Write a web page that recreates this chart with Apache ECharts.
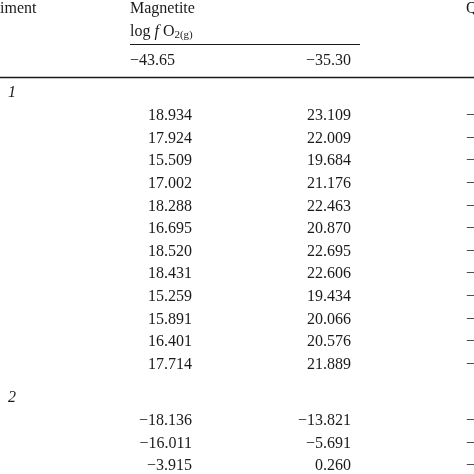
<!DOCTYPE html>
<html>
<head>
<meta charset="utf-8">
<script src="https://cdn.jsdelivr.net/npm/echarts@6/dist/echarts.min.js"></script>
<style>html,body{margin:0;padding:0;background:#fff}#main{width:474px;height:474px}</style>
</head>
<body>
<div id="main"></div>
<script>
var myChart = echarts.init(document.getElementById('main'));

// header values
var headerValues = ['\u221243.65', '\u221235.30'];
// experiment 1 rows
var exp1Col1 = ['18.934', '17.924', '15.509', '17.002', '18.288', '16.695', '18.520', '18.431', '15.259', '15.891', '16.401', '17.714'];
var exp1Col2 = ['23.109', '22.009', '19.684', '21.176', '22.463', '20.870', '22.695', '22.606', '19.434', '20.066', '20.576', '21.889'];
// experiment 2 rows
var exp2Col1 = ['\u221218.136', '\u221216.011', '\u22123.915'];
var exp2Col2 = ['\u221213.821', '\u22125.691', '0.260'];

var font = '16px "Liberation Serif", serif';
var ink = '#1a1a1a';
var rowH = 22.6;
var g = [];

function txt(x, y, s, align, extra) {
    g.push({
        type: 'text', x: x, y: y,
        style: Object.assign({ text: s, font: font, fill: ink, align: align || 'left', verticalAlign: 'middle' }, extra || {})
    });
}
function rule(y, x1, x2, w) {
    g.push({ type: 'line', shape: { x1: x1, y1: y, x2: x2, y2: y }, style: { stroke: ink, lineWidth: w || 1 } });
}

txt(0, 9, 'iment');
txt(130, 9, 'Magnetite');
g.push({
    type: 'text', x: 130, y: 32,
    style: {
        text: 'log {i|f} O{s|2(g)}', font: font, fill: ink, verticalAlign: 'middle',
        rich: {
            i: { font: 'italic 16px "Liberation Serif", serif', fill: ink },
            s: { font: '11px "Liberation Serif", serif', fill: ink, verticalAlign: 'bottom', padding: [6, 0, 0, 0] }
        }
    }
});
txt(466, 9, 'Q');
rule(44.5, 130, 360, 1);
txt(130, 61, headerValues[0]);
txt(351, 61, headerValues[1], 'right');
rule(77.5, 0, 474, 1.3);

function block(labelY, label, col1, col2, startY) {
    txt(8, labelY, label, 'left', { font: 'italic 16px "Liberation Serif", serif' });
    for (var i = 0; i < col1.length; i++) {
        var y = startY + i * rowH;
        txt(192, y, col1[i], 'right');
        txt(351, y, col2[i], 'right');
        txt(466, y, '\u2212');
    }
}
block(93, '1', exp1Col1, exp1Col2, 116);
block(398, '2', exp2Col1, exp2Col2, 421);

myChart.setOption({ backgroundColor: '#fff', graphic: g });
</script>
</body>
</html>
